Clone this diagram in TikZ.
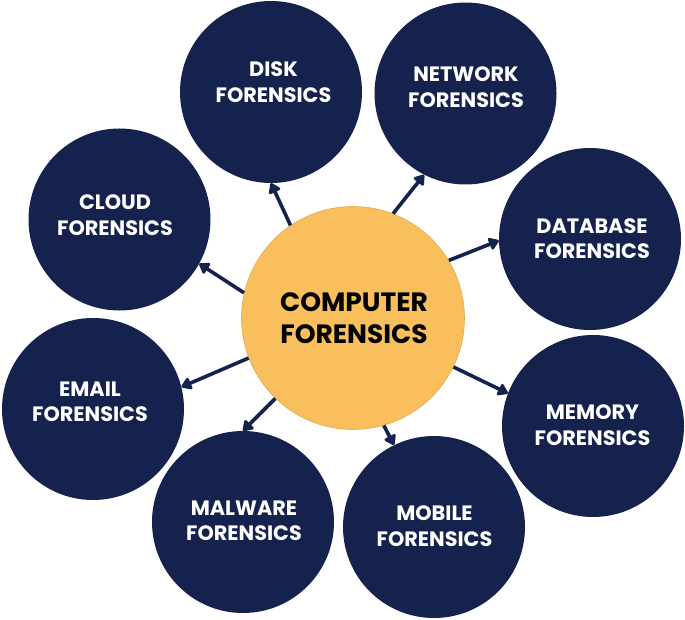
\documentclass[tikz,border=0pt]{standalone}
\usepackage{fontspec}
\setmainfont{Poppins}
\usetikzlibrary{arrows.meta}
\definecolor{navy}{HTML}{15224D}
\definecolor{gold}{HTML}{F8BF5C}
\tikzset{
  outer/.style={circle, fill=navy, draw=none, inner sep=0pt, minimum size=182pt},
  hub/.style={circle, fill=gold, draw=gold!90!black, line width=0.6pt, inner sep=0pt, minimum size=223pt},
  otext/.style={text=white, font=\fontsize{20.8}{25.5}\selectfont\bfseries, align=center, inner sep=0pt},
  htext/.style={text=black, font=\fontsize{26.5}{32.5}\selectfont\bfseries, align=center, inner sep=0pt},
  arr/.style={draw=navy, line width=3.6pt, line join=round, -{Triangle[width=14pt,length=11pt,round]}}
}
\begin{document}
\begin{tikzpicture}[x=1pt,y=-1pt]
\useasboundingbox (0,0) rectangle (685,620);
% circles
\node[hub] (c) at (353,318) {};
\node[outer] (disk) at (271,92) {};
\node[outer] (net) at (465.5,93.5) {};
\node[outer] (db) at (590,239) {};
\node[outer] (mem) at (593,426) {};
\node[outer] (mob) at (434,527) {};
\node[outer] (mal) at (243,522) {};
\node[outer] (email) at (93,409) {};
\node[outer] (cloud) at (119.5,219.5) {};
% texts
\node[htext] (tc) at (354,318) {COMPUTER\\FORENSICS};
\node[otext] (tdisk) at (273.5,82) {DISK\\FORENSICS};
\node[otext] (tnet) at (466,87) {NETWORK\\FORENSICS};
\node[otext] (tdb) at (592,238.5) {DATABASE\\FORENSICS};
\node[otext] (tmem) at (592.5,425) {MEMORY\\FORENSICS};
\node[otext] (tmob) at (434.5,526) {MOBILE\\FORENSICS};
\node[otext] (tmal) at (244,521) {MALWARE\\FORENSICS};
\node[otext] (temail) at (90,402) {EMAIL\\FORENSICS};
\node[otext] (tcloud) at (115,215) {CLOUD\\FORENSICS};
% arrows
\draw[arr] (c.124) -- (disk.-90);
\draw[arr] (c.69) -- (net.-117);
\draw[arr] (c.31) -- (db.181);
\draw[arr] (c.-26) -- (mem.159);
\draw[arr] (c.-74) -- (mob.116);
\draw[arr] (c.-134) -- (mal.90);
\draw[arr] (c.201) -- (email.14);
\draw[arr] (c.167) -- (cloud.-29);
\end{tikzpicture}
\end{document}
